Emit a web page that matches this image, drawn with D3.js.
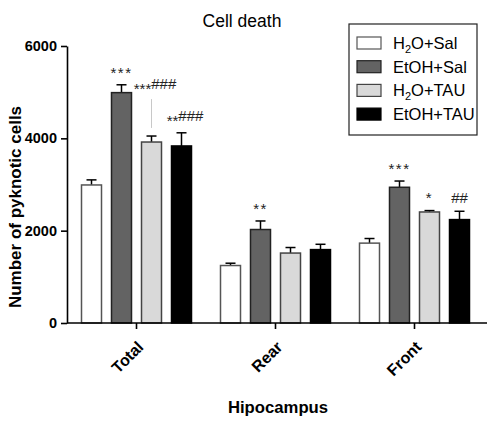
<!DOCTYPE html>
<html>
<head>
<meta charset="utf-8">
<script src="https://cdn.jsdelivr.net/npm/d3@7"></script>
<style>
  body { margin: 0; background: #fff; }
  text { font-family: "Liberation Sans", Arial, sans-serif; }
</style>
</head>
<body>
<svg width="490" height="430"></svg>
<script>
const svg = d3.select("svg");

// data
const regions = ["Total", "Rear", "Front"];
const groups = ["H2O+Sal", "EtOH+Sal", "H2O+TAU", "EtOH+TAU"];
const means = [
    [2990, 4990, 3920, 3835],
    [1245, 2025, 1515, 1590],
    [1730, 2940, 2405, 2240]
];
const errors = [
    [110, 170, 130, 285],
    [50, 185, 120, 115],
    [100, 135, 30, 180]
];
const marks = [
    ["", "***", "***###", "**###"],
    ["", "**", "", ""],
    ["", "***", "*", "##"]
];
// height (in cells) where each mark sits
const marksAt = [
    [0, 5300, 5050, 4360],
    [0, 2360, 0, 0],
    [0, 3230, 2600, 2600]
];
const yTicks = [0, 2000, 4000, 6000];

const colors = ["#ffffff", "#636363", "#d9d9d9", "#000000"];
const outlines = ["#555", "#222", "#444", "#000"];

const y = d3.scaleLinear().domain([0, 6000]).range([323, 46]);
const x0 = d3.scaleBand().domain(regions).range([67, 484]);
const x1 = d3.scaleBand().domain(groups).range([-60, 60])
    .paddingInner(1/3).paddingOuter(1/6);

const rows = [];
regions.forEach(function(r, i) {
    groups.forEach(function(g, j) {
        rows.push({region: r, group: g, idx: j, mean: means[i][j], err: errors[i][j],
                   mark: marks[i][j], markAt: marksAt[i][j]});
    });
});

function barX(d) {
    return x0(d.region) + x0.bandwidth() / 2 + x1(d.group);
}
function barC(d) {
    return barX(d) + x1.bandwidth() / 2;
}

// title
svg.append("text")
    .attr("x", 242).attr("y", 27)
    .attr("text-anchor", "middle")
    .attr("font-size", 17.5)
    .text("Cell death");

// error bars (behind bars)
const errG = svg.append("g").attr("stroke", "#000").attr("stroke-width", 1.5);
errG.selectAll("line.v")
    .data(rows)
    .enter().append("line")
        .attr("x1", barC).attr("x2", barC)
        .attr("y1", function(d) { return y(d.mean); })
        .attr("y2", function(d) { return y(d.mean + d.err); });
errG.selectAll("line.c")
    .data(rows)
    .enter().append("line")
        .attr("x1", function(d) { return barC(d) - 5; })
        .attr("x2", function(d) { return barC(d) + 5; })
        .attr("y1", function(d) { return y(d.mean + d.err); })
        .attr("y2", function(d) { return y(d.mean + d.err); });

// bars
svg.append("g")
    .selectAll("rect")
    .data(rows)
    .enter().append("rect")
        .attr("x", barX)
        .attr("y", function(d) { return y(d.mean); })
        .attr("width", x1.bandwidth())
        .attr("height", function(d) { return y(0) - y(d.mean); })
        .attr("fill", function(d) { return colors[d.idx]; })
        .attr("stroke", function(d) { return outlines[d.idx]; })
        .attr("stroke-width", 1.5);

// faint grey line above the Total H2O+TAU bar
const tl = rows[2];
svg.append("line")
    .attr("x1", barC(tl)).attr("x2", barC(tl))
    .attr("y1", y(4850)).attr("y2", y(4225))
    .attr("stroke", "#c8c8c8").attr("stroke-width", 1);

// significance marks
const markT = svg.append("g")
    .selectAll("text")
    .data(rows.filter(function(d) { return d.mark; }))
    .enter().append("text")
        .attr("x", function(d) { return barC(d) + (d.mark.indexOf("*#") >= 0 ? 3.5 : 0); })
        .attr("y", function(d) { return y(d.markAt); })
        .attr("text-anchor", "middle")
        .attr("font-size", 15)
        .attr("fill", "#222");
markT.each(function(d) {
    const t = d3.select(this);
    const stars = d.mark.replace(/#/g, "");
    const hashes = d.mark.replace(/\*/g, "");
    if (stars && hashes) {
        t.append("tspan").attr("dy", 4).text(stars);
        t.append("tspan").attr("dy", -5).text(hashes);
    } else {
        t.attr("letter-spacing", stars ? 1.5 : 0).text(d.mark);
    }
});

// y axis
const yAxis = svg.append("g")
    .attr("transform", "translate(67,0)")
    .call(d3.axisLeft(y).tickValues(yTicks).tickSize(6).tickPadding(4).tickSizeOuter(0).tickFormat(d3.format("d")));
yAxis.select(".domain").attr("stroke-width", 1.6);
yAxis.selectAll(".tick line").attr("stroke-width", 1.6);
yAxis.selectAll(".tick text")
    .attr("font-family", "Liberation Sans, Arial, sans-serif")
    .attr("font-size", 14.5).attr("font-weight", "bold").attr("fill", "#000");

// x axis
const xAxis = svg.append("g")
    .attr("transform", "translate(0," + y(0) + ")")
    .call(d3.axisBottom(x0).tickSize(6).tickSizeOuter(0));
xAxis.select(".domain").attr("d", "M67,0H487").attr("stroke-width", 1.6);
xAxis.selectAll(".tick line").attr("stroke-width", 1.6);
xAxis.selectAll(".tick text")
    .attr("font-family", "Liberation Sans, Arial, sans-serif")
    .attr("font-size", 16).attr("font-weight", "bold").attr("fill", "#000")
    .attr("text-anchor", "end")
    .attr("dy", null).attr("y", 0)
    .attr("transform", "translate(8,25) rotate(-45)");

// axis titles
svg.append("text")
    .attr("transform", "translate(21,207) rotate(-90)")
    .attr("text-anchor", "middle")
    .attr("font-size", 17).attr("font-weight", "bold")
    .text("Number of pyknotic cells");
svg.append("text")
    .attr("x", 278).attr("y", 413)
    .attr("text-anchor", "middle")
    .attr("font-size", 16.7).attr("font-weight", "bold")
    .text("Hipocampus");

// legend
const legend = svg.append("g");
legend.append("rect")
    .attr("x", 349).attr("y", 24).attr("width", 128).attr("height", 111)
    .attr("fill", "#fff").attr("stroke", "#222").attr("stroke-width", 1.2);
const item = legend.selectAll("g.item")
    .data(groups)
    .enter().append("g")
        .attr("transform", function(d, i) { return "translate(0," + (43 + i * 23.7) + ")"; });
item.append("rect")
    .attr("x", 357).attr("y", -6).attr("width", 24).attr("height", 12)
    .attr("fill", function(d, i) { return colors[i]; })
    .attr("stroke", function(d, i) { return outlines[i]; })
    .attr("stroke-width", 1.2);
item.each(function(d) {
    const t = d3.select(this).append("text")
        .attr("x", 393).attr("y", 6)
        .attr("font-size", 16.5);
    if (d.indexOf("H2O") === 0) {
        t.append("tspan").text("H");
        t.append("tspan").attr("font-size", 11).attr("dy", 4).text("2");
        t.append("tspan").attr("dy", -4).text(d.slice(2));
    } else {
        t.text(d);
    }
});
</script>
</body>
</html>
